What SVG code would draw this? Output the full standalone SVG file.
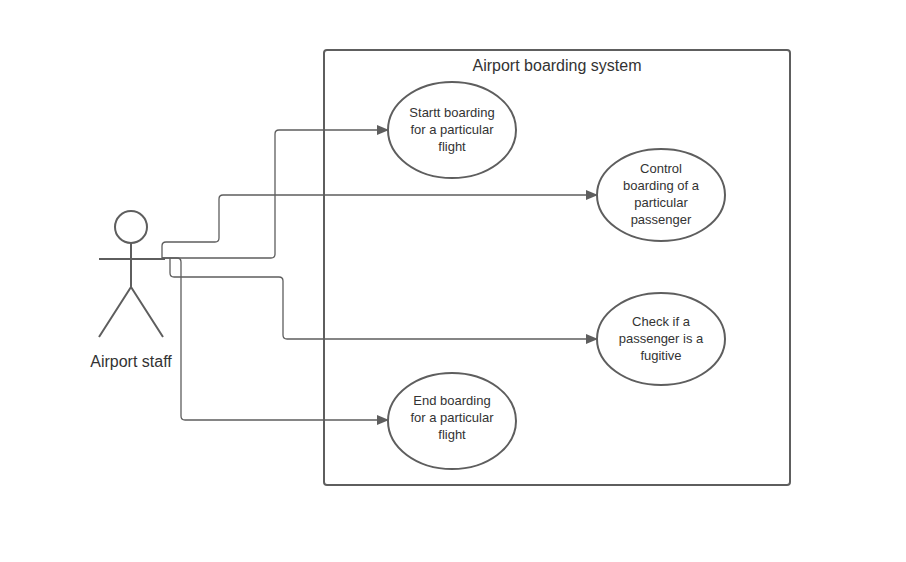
<svg xmlns="http://www.w3.org/2000/svg" width="906" height="562" viewBox="0 0 906 562">
<style>
.s{fill:none;stroke:#5e5e5e;stroke-width:2}
.e{fill:#fff;stroke:#5e5e5e;stroke-width:2}
.c{fill:none;stroke:#5e5e5e;stroke-width:1.3;stroke-linejoin:round}
text{font-family:"Liberation Sans",Arial,sans-serif;fill:#333;text-anchor:middle}
.t{font-size:13px}
</style>
<defs><marker id="a" markerWidth="12" markerHeight="10" refX="11" refY="5" orient="auto" markerUnits="userSpaceOnUse"><path d="M0,0 L12,5 L0,10 z" fill="#5e5e5e"/></marker></defs>
<rect width="906" height="562" fill="#fff"/>
<g id="system"><rect x="324" y="50" width="466" height="435" rx="3" class="s"/><text x="557" y="71" font-size="16">Airport boarding system</text></g>
<g id="actor"><circle cx="131" cy="227" r="16" class="s"/><path d="M131 243V287M99 259H165M131 287L99 337M131 287L163 337" class="s"/><text x="131" y="367" font-size="16">Airport staff</text></g>
<g id="connectors">
<path class="c" marker-end="url(#a)" d="M162 258H271Q275 258 275 254V134Q275 130 279 130H388"/>
<path class="c" marker-end="url(#a)" d="M162 258V246Q162 242 166 242H215Q219 242 219 238V199Q219 195 223 195H597"/>
<path class="c" marker-end="url(#a)" d="M170 258V273Q170 277 174 277H279Q283 277 283 281V335Q283 339 287 339H597"/>
<path class="c" marker-end="url(#a)" d="M162 258H177Q181 258 181 262V416Q181 420 185 420H388"/>
</g>
<g id="uc1"><ellipse cx="452" cy="130" rx="64" ry="48" class="e"/><text class="t" x="452" y="117">Startt boarding</text><text class="t" x="452" y="134">for a particular</text><text class="t" x="452" y="151">flight</text></g>
<g id="uc2"><ellipse cx="661" cy="195" rx="64" ry="46" class="e"/><text class="t" x="661" y="173">Control</text><text class="t" x="661" y="190">boarding of a</text><text class="t" x="661" y="207">particular</text><text class="t" x="661" y="224">passenger</text></g>
<g id="uc3"><ellipse cx="661" cy="339" rx="64" ry="46" class="e"/><text class="t" x="661" y="326">Check if a</text><text class="t" x="661" y="343">passenger is a</text><text class="t" x="661" y="360">fugitive</text></g>
<g id="uc4"><ellipse cx="452" cy="421" rx="64" ry="48" class="e"/><text class="t" x="452" y="405">End boarding</text><text class="t" x="452" y="422">for a particular</text><text class="t" x="452" y="439">flight</text></g>
</svg>
